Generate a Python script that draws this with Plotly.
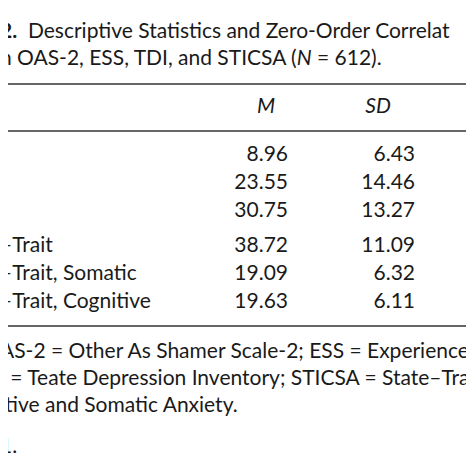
import plotly.graph_objects as go

# table content (left part of table is cropped in the reference)
title_lines = ["<b>2.</b>  Descriptive Statistics and Zero-Order Correlat",
               "n OAS-2, ESS, TDI, and STICSA (<i>N</i> = 612)."]
col_heads = ["<i>M</i>", "<i>SD</i>"]
row_labels = ["", "", "", "–Trait", "–Trait, Somatic", "–Trait, Cognitive"]
means = [8.96, 23.55, 30.75, 38.72, 19.09, 19.63]
sds = [6.43, 14.46, 13.27, 11.09, 6.32, 6.11]
notes = ["AS-2 = Other As Shamer Scale-2; ESS = Experience of Sh",
         "l = Teate Depression Inventory; STICSA = State–Trait I",
         "itive and Somatic Anxiety.",
         "",
         "1."]

row_y = [148, 176, 204, 239, 267, 295]
note_y = [345, 372, 399, 420, 440]
FONT = dict(family="Lato, Open Sans, sans-serif", size=21, color="#1a1a1a")

fig = go.Figure()
fig.add_trace(go.Scatter(x=[-8, -8], y=[25, 52], text=title_lines, mode="text",
                         textposition="middle right", textfont=FONT))
fig.add_trace(go.Scatter(x=[258, 370], y=[100, 100], text=col_heads, mode="text",
                         textposition="middle center", textfont=FONT))
fig.add_trace(go.Scatter(x=[-8] * len(row_labels), y=row_y, text=row_labels, mode="text",
                         textposition="middle right", textfont=FONT))
fig.add_trace(go.Scatter(x=[280] * len(means), y=row_y, text=[f"{v:.2f}" for v in means],
                         mode="text", textposition="middle left", textfont=FONT))
fig.add_trace(go.Scatter(x=[407] * len(sds), y=row_y, text=[f"{v:.2f}" for v in sds],
                         mode="text", textposition="middle left", textfont=FONT))
fig.add_trace(go.Scatter(x=[-8] * len(notes), y=note_y, text=notes, mode="text",
                         textposition="middle right", textfont=FONT))

for yy in [76, 123, 318]:
    fig.add_shape(type="line", x0=0, x1=474, y0=yy, y1=yy, line=dict(color="#333", width=1.5))

fig.update_layout(
    width=474, height=474, margin=dict(l=0, r=0, t=0, b=0),
    paper_bgcolor="white", plot_bgcolor="white", showlegend=False,
    xaxis=dict(range=[0, 474], visible=False, fixedrange=True),
    yaxis=dict(range=[474, 0], visible=False, fixedrange=True),
)
fig.write_html("out.html")
